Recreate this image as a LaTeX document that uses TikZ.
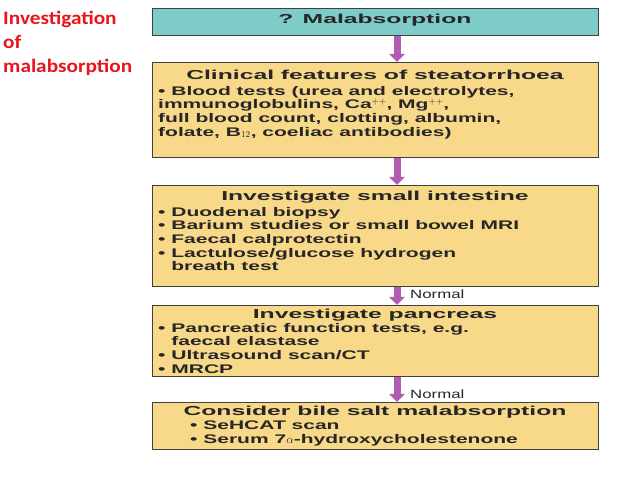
\documentclass[tikz,border=0pt]{standalone}
\usepackage{fontspec}
\setmainfont{Liberation Sans}[FakeStretch=1.68]
\newfontfamily\hdfont{Liberation Sans}[FakeStretch=1.9]
\newfontfamily\nfont{Liberation Sans}[FakeStretch=1.4]
\newfontfamily\carl{Carlito}[FakeStretch=1.12]
\usetikzlibrary{arrows.meta}
\definecolor{boxy}{HTML}{F8D98A}
\definecolor{boxt}{HTML}{7ECCC8}
\definecolor{arr}{HTML}{B05CB0}
\definecolor{ttl}{HTML}{E8141C}
\tikzset{
  bx/.style={draw=black!75, line width=1.2pt, fill=boxy, anchor=north west, inner sep=0pt},
  txt/.style={anchor=north west, align=left, inner sep=0pt, font=\bfseries\fontsize{12.5}{13.6}\selectfont, text=black!85},
  hd/.style={anchor=north, inner sep=0pt, font=\hdfont\bfseries\fontsize{13}{14}\selectfont, text=black!85},
  ar/.style={arr, line width=7pt, -{Triangle[width=15pt,length=8pt]}},
  lbl/.style={anchor=west, inner sep=0pt, font=\nfont\fontsize{12}{14}\selectfont, text=black!85}
}
\begin{document}
\begin{tikzpicture}[x=1pt,y=-1pt]
\useasboundingbox (0,0) rectangle (638,478);
\node[anchor=north west, align=left, inner sep=0pt, text=ttl, font=\carl\bfseries\fontsize{19}{24}\selectfont] (title) at (3,11) {Investigation\\of\\malabsorption};
% boxes
\node[bx, fill=boxt, minimum width=446pt, minimum height=27pt] (b1) at (152,8) {};
\node[bx, minimum width=446pt, minimum height=95pt] (b2) at (152,62) {};
\node[bx, minimum width=446pt, minimum height=101pt] (b3) at (152,185) {};
\node[bx, minimum width=446pt, minimum height=71pt] (b4) at (152,305) {};
\node[bx, minimum width=446pt, minimum height=47pt] (b5) at (152,402) {};
% texts
\node[hd] (h1) at (375,14) {? Malabsorption};
\node[hd] (h2) at (375,70) {Clinical features of steatorrhoea};
\node[txt] (t2) at (158,86) {• Blood tests (urea and electrolytes,\\immunoglobulins, Ca$^{++}$, Mg$^{++}$,\\full blood count, clotting, albumin,\\folate, B$_{12}$, coeliac antibodies)};
\node[hd] (h3) at (375,191) {Investigate small intestine};
\node[txt] (t3) at (158,207) {• Duodenal biopsy\\• Barium studies or small bowel MRI\\• Faecal calprotectin\\• Lactulose/glucose hydrogen\\\phantom{• }breath test};
\node[hd] (h4) at (375,309) {Investigate pancreas};
\node[txt] (t4) at (158,323) {• Pancreatic function tests, e.g.\\\phantom{• }faecal elastase\\• Ultrasound scan/CT\\• MRCP};
\node[hd] (h5) at (375,406) {Consider bile salt malabsorption};
\node[txt] (t5) at (190,421) {• SeHCAT scan\\• Serum 7$\alpha$-hydroxycholestenone};
% arrows
\draw[ar] (b1.south -| 397,0) -- (b2.north -| 397,0);
\draw[ar] (b2.south -| 397,0) -- (b3.north -| 397,0);
\draw[ar] (b3.south -| 397,0) -- (b4.north -| 397,0);
\draw[ar] (b4.south -| 397,0) -- (b5.north -| 397,0);
\node[lbl] (n1) at (410,294) {Normal};
\node[lbl] (n2) at (410,394) {Normal};
\end{tikzpicture}
\end{document}
